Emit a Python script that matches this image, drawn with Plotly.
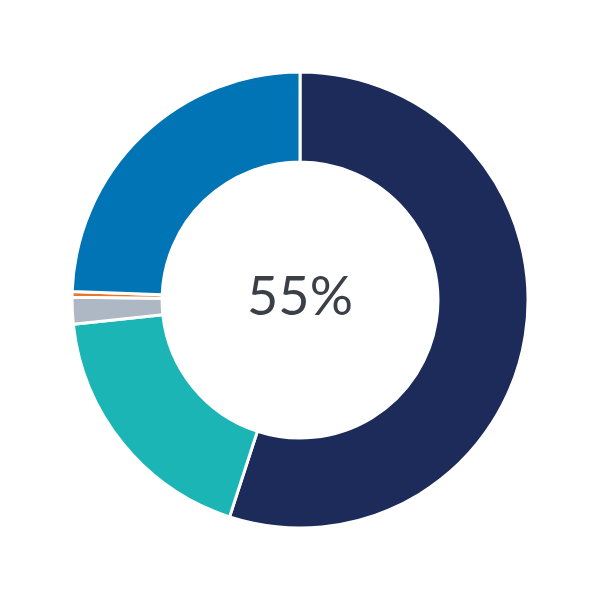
import plotly.graph_objects as go

labels = ["Navy", "Teal", "Gray", "Orange", "Blue"]
values = [55.0, 18.3, 1.9, 0.4, 24.4]
colors = ["#1c2b59", "#1cb5b6", "#aeb7c4", "#e8772e", "#0074b4"]
center_text = "55%"

fig = go.Figure(go.Pie(
    labels=labels, values=values, hole=0.605, sort=False,
    direction="clockwise", rotation=0,
    marker=dict(colors=colors, line=dict(color="white", width=3)),
    textinfo="none", hoverinfo="label+percent",
    domain=dict(x=[0.1067, 0.8667], y=[0.1333, 0.8933]),
))
fig.update_layout(
    width=600, height=600, margin=dict(l=0, r=0, t=0, b=0),
    showlegend=False, paper_bgcolor="white",
    annotations=[dict(text=center_text, x=0.4867, y=0.5233, xref="paper", yref="paper",
                      showarrow=False, font=dict(family="Lato", size=54, color="#3b3f47"))],
)
fig.write_html("out.html")
